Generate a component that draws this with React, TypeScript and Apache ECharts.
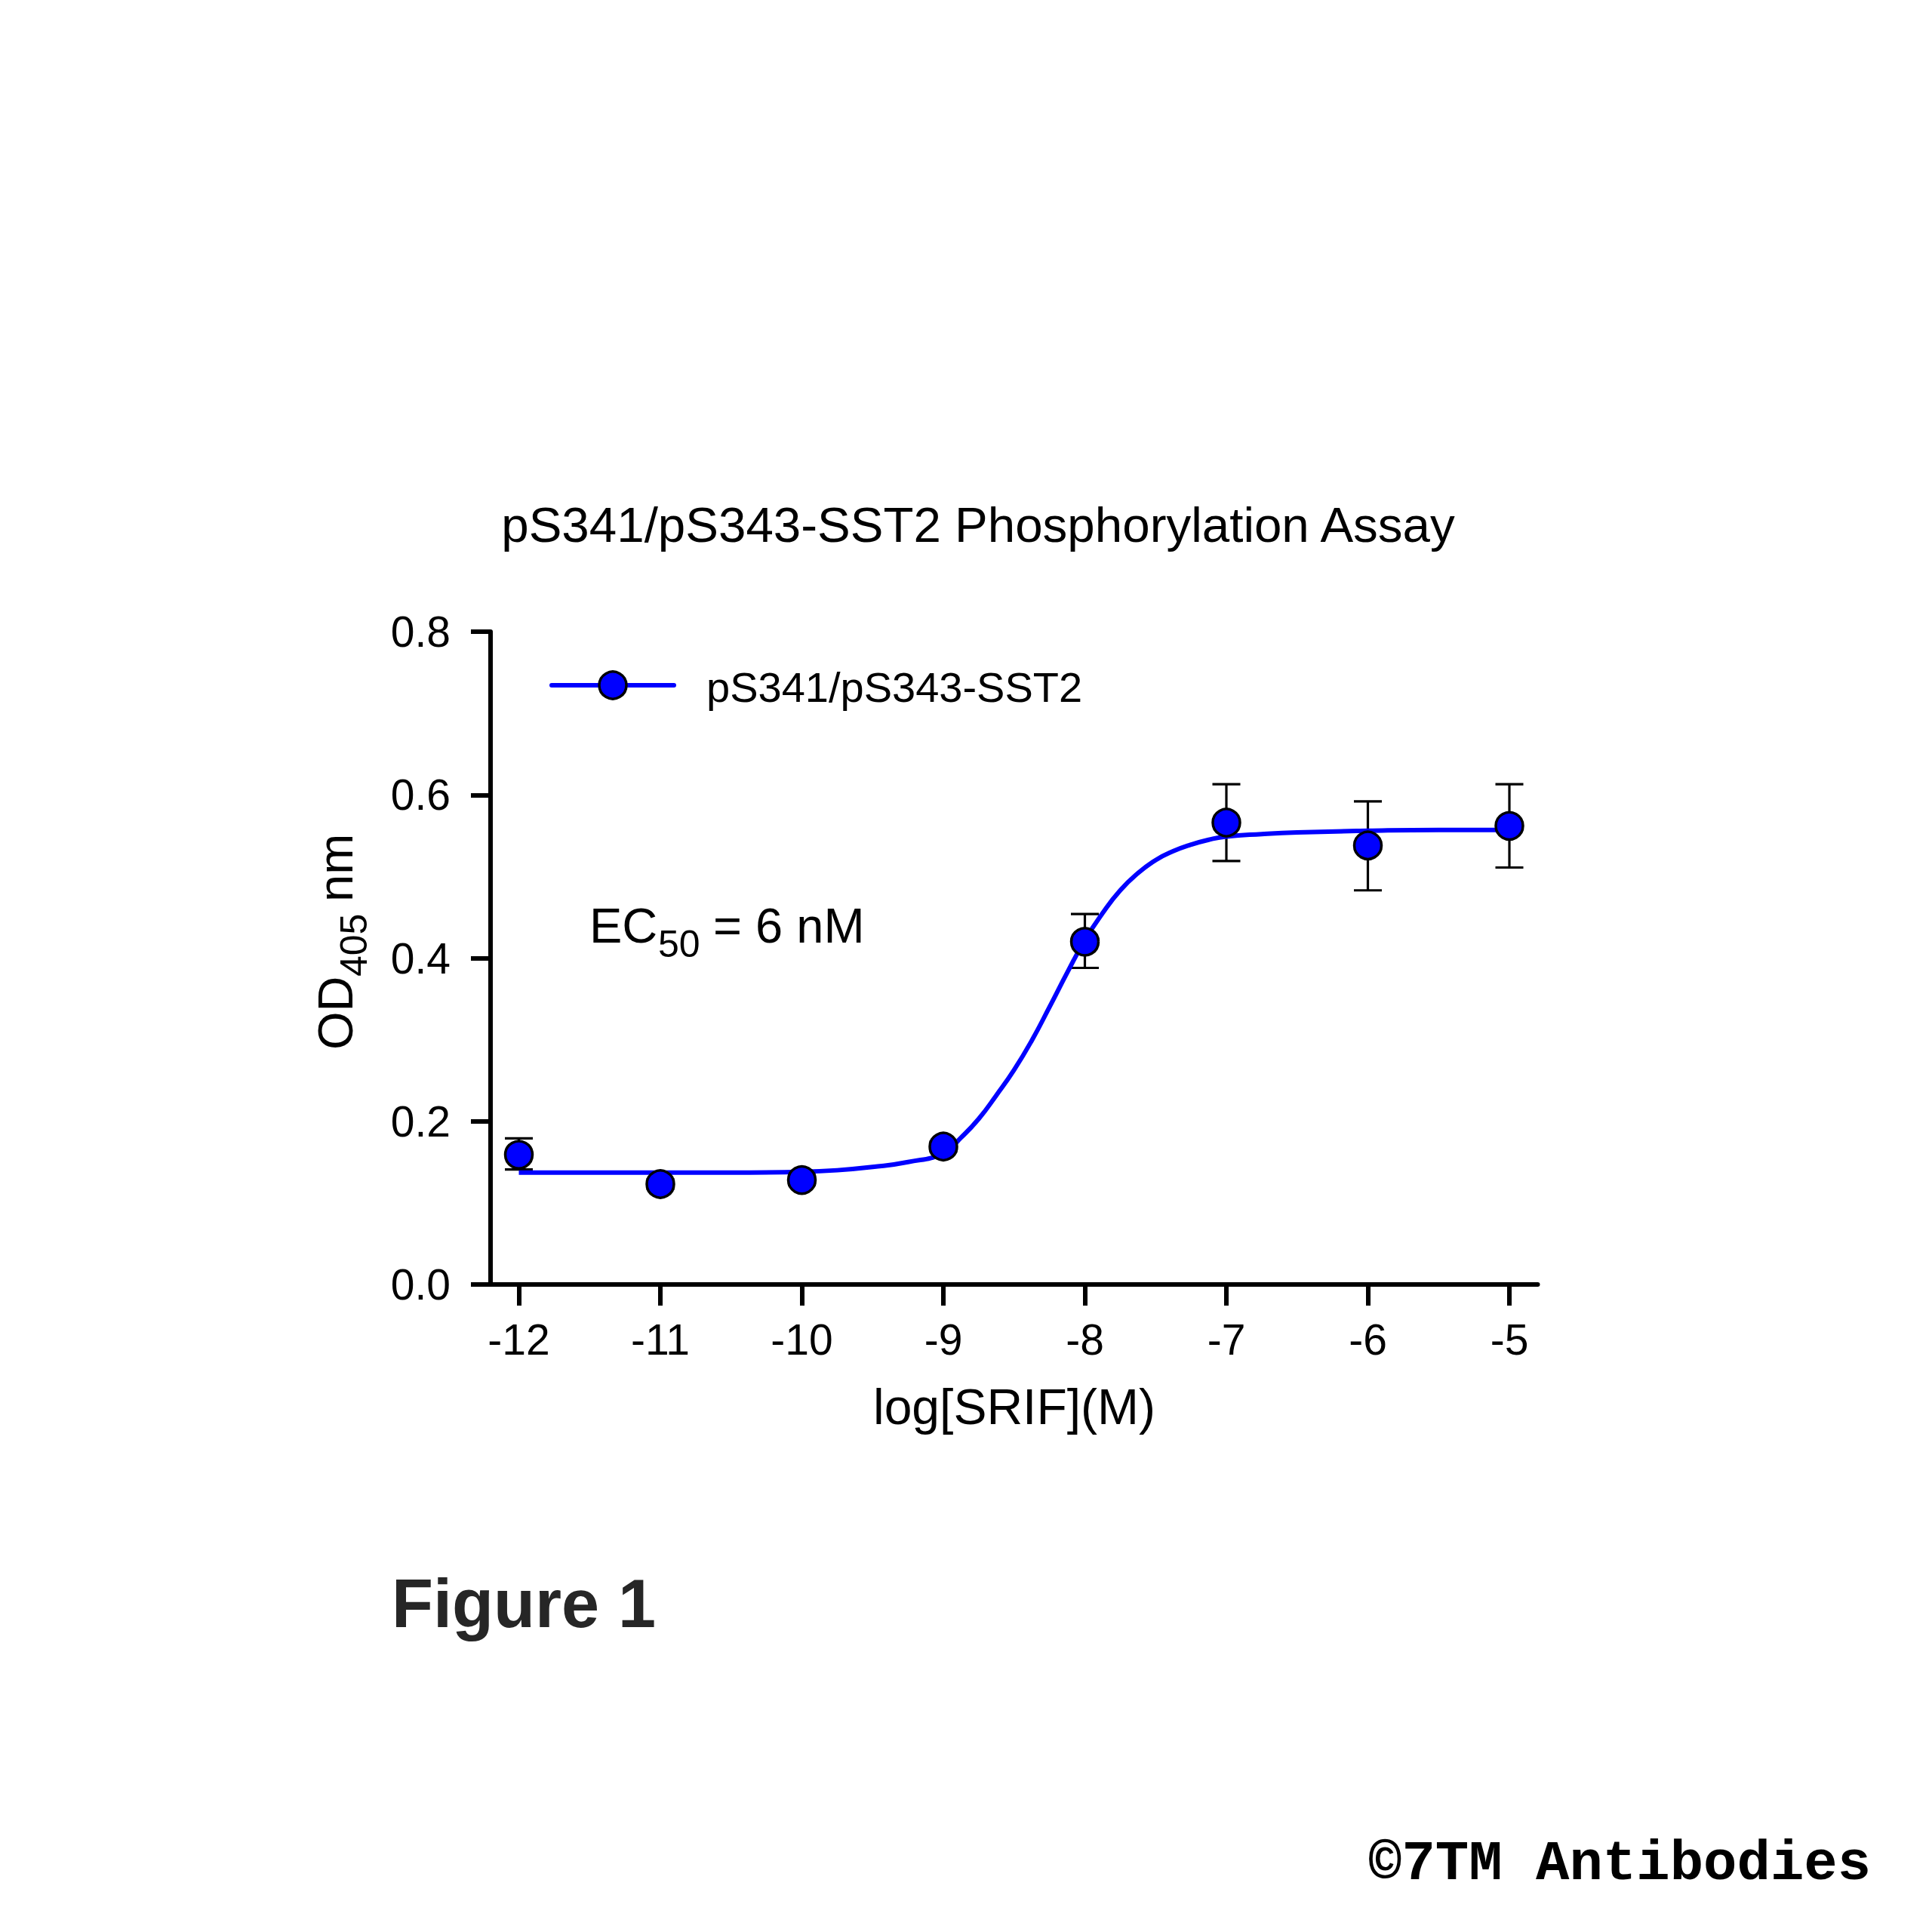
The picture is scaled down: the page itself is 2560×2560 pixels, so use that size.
import React, { useEffect, useRef } from "react";
import * as echarts from "echarts";

// ---- data ----
const doseLog = [-12, -11, -10, -9, -8, -7, -6, -5];
const meanOD = [0.159, 0.123, 0.128, 0.169, 0.42, 0.566, 0.538, 0.562];
const errLow = [0.141, 0.117, 0.122, 0.163, 0.388, 0.519, 0.483, 0.511];
const errHigh = [0.179, 0.129, 0.134, 0.175, 0.454, 0.613, 0.592, 0.613];

const fitX = [
  -12, -11.5, -11, -10.5, -10, -9.75, -9.5, -9.25, -9, -8.875, -8.75, -8.625,
  -8.5, -8.375, -8.25, -8.125, -8, -7.875, -7.75, -7.625, -7.5, -7.375, -7.25,
  -7.125, -7, -6.75, -6.5, -6, -5.5, -5,
];
const fitY = [
  0.137, 0.137, 0.137, 0.137, 0.138, 0.14, 0.144, 0.15, 0.161, 0.18, 0.203,
  0.232, 0.263, 0.299, 0.34, 0.382, 0.422, 0.455, 0.483, 0.504, 0.52, 0.531,
  0.539, 0.545, 0.549, 0.552, 0.554, 0.556, 0.557, 0.557,
];

const xTicks = [-12, -11, -10, -9, -8, -7, -6, -5];
const yTicks = [0, 0.2, 0.4, 0.6, 0.8];

const titleText = "pS341/pS343-SST2 Phosphorylation Assay";
const seriesName = "pS341/pS343-SST2";
const xLabel = "log[SRIF](M)";

const SANS = "'Liberation Sans', Arial, Helvetica, sans-serif";
const BLUE = "#0000ff";

export default function App() {
  const ref = useRef<HTMLDivElement>(null);

  useEffect(() => {
    if (!ref.current) return;
    const chart = echarts.init(ref.current, undefined, { renderer: "svg" });

    const points = doseLog.map((x, i) => [x, meanOD[i]]);
    const errs = doseLog.map((x, i) => [x, errLow[i], errHigh[i]]);
    const fit = fitX.map((x, i) => [x, fitY[i]]);

    const option: any = {
      animation: false,
      backgroundColor: "#ffffff",
      grid: { left: 650, top: 837, width: 1387.5, height: 865, containLabel: false },
      xAxis: {
        type: "value",
        min: -12.2,
        max: -4.8,
        axisLine: { show: true, onZero: false, lineStyle: { color: "#000", width: 6 } },
        axisTick: {
          show: true,
          inside: false,
          length: 28,
          customValues: xTicks,
          lineStyle: { color: "#000", width: 6 },
        },
        axisLabel: {
          show: true,
          customValues: xTicks,
          margin: 44,
          fontSize: 57,
          fontFamily: SANS,
          color: "#000",
          formatter: (v: number) => String(v),
        },
        splitLine: { show: false },
      },
      yAxis: {
        type: "value",
        min: yTicks[0],
        max: yTicks[yTicks.length - 1],
        interval: 0.2,
        axisLine: { show: true, lineStyle: { color: "#000", width: 6 } },
        axisTick: {
          show: true,
          inside: false,
          length: 26,
          lineStyle: { color: "#000", width: 6 },
        },
        axisLabel: {
          show: true,
          margin: 53,
          fontSize: 57,
          fontFamily: SANS,
          color: "#000",
          formatter: (v: number) => v.toFixed(1),
        },
        splitLine: { show: false },
      },
      series: [
        {
          type: "custom",
          name: "err",
          z: 1,
          data: errs,
          renderItem: (params: any, api: any) => {
            const x = api.value(0);
            const lo = api.coord([x, api.value(1)]);
            const hi = api.coord([x, api.value(2)]);
            const hw = 18.5;
            const style = { stroke: "#000", lineWidth: 3.2 };
            return {
              type: "group",
              children: [
                { type: "line", shape: { x1: lo[0], y1: lo[1], x2: hi[0], y2: hi[1] }, style },
                { type: "line", shape: { x1: lo[0] - hw, y1: lo[1], x2: lo[0] + hw, y2: lo[1] }, style },
                { type: "line", shape: { x1: hi[0] - hw, y1: hi[1], x2: hi[0] + hw, y2: hi[1] }, style },
              ],
            };
          },
        },
        {
          type: "line",
          name: "fit",
          z: 2,
          data: fit,
          smooth: 0.5,
          showSymbol: false,
          symbol: "none",
          lineStyle: { color: BLUE, width: 6 },
        },
        {
          type: "scatter",
          name: seriesName,
          z: 3,
          data: points,
          symbol: "circle",
          symbolSize: 36,
          itemStyle: { color: BLUE, borderColor: "#000", borderWidth: 3.5, opacity: 1 },
        },
      ],
      graphic: [
        {
          type: "text",
          x: 1296,
          y: 695,
          style: {
            text: titleText,
            font: `65.5px ${SANS}`,
            fill: "#000",
            align: "center",
            verticalAlign: "middle",
          },
        },
        // legend
        {
          type: "line",
          shape: { x1: 731, y1: 908, x2: 893, y2: 908 },
          style: { stroke: BLUE, lineWidth: 6, lineCap: "round" },
        },
        {
          type: "circle",
          shape: { cx: 812, cy: 908, r: 18 },
          style: { fill: BLUE, stroke: "#000", lineWidth: 3.5 },
        },
        {
          type: "text",
          x: 936,
          y: 910,
          style: {
            text: seriesName,
            font: `56px ${SANS}`,
            fill: "#000",
            align: "left",
            verticalAlign: "middle",
          },
        },
        // EC50 annotation
        {
          type: "text",
          x: 781,
          y: 1226,
          style: { text: "EC", font: `65px ${SANS}`, fill: "#000", align: "left", verticalAlign: "middle" },
        },
        {
          type: "text",
          x: 872,
          y: 1251,
          style: { text: "50", font: `50px ${SANS}`, fill: "#000", align: "left", verticalAlign: "middle" },
        },
        {
          type: "text",
          x: 927,
          y: 1226,
          style: { text: " = 6 nM", font: `65px ${SANS}`, fill: "#000", align: "left", verticalAlign: "middle" },
        },
        // y-axis title (rotated)
        {
          type: "group",
          x: 467,
          y: 1391,
          rotation: Math.PI / 2,
          children: [
            {
              type: "text",
              x: 0,
              y: -23,
              style: { text: "OD", font: `65px ${SANS}`, fill: "#000", align: "left", verticalAlign: "middle" },
            },
            {
              type: "text",
              x: 97,
              y: 2,
              style: { text: "405", font: `50px ${SANS}`, fill: "#000", align: "left", verticalAlign: "middle" },
            },
            {
              type: "text",
              x: 178,
              y: -23,
              style: { text: " nm", font: `65px ${SANS}`, fill: "#000", align: "left", verticalAlign: "middle" },
            },
          ],
        },
        // x-axis title
        {
          type: "text",
          x: 1344,
          y: 1864,
          style: { text: xLabel, font: `66px ${SANS}`, fill: "#000", align: "center", verticalAlign: "middle" },
        },
        // Figure label
        {
          type: "text",
          x: 519,
          y: 2125,
          style: {
            text: "Figure 1",
            font: `bold 90px ${SANS}`,
            fill: "#262626",
            align: "left",
            verticalAlign: "middle",
          },
        },
        // copyright
        {
          type: "text",
          x: 1813,
          y: 2470,
          style: {
            text: "©7TM Antibodies",
            font: `bold 74px 'Courier New', 'Liberation Mono', monospace`,
            fill: "#000",
            align: "left",
            verticalAlign: "middle",
          },
        },
      ],
    };

    chart.setOption(option);
    return () => chart.dispose();
  }, []);

  return (
    <div
      ref={ref}
      style={{ position: "absolute", left: 0, top: 0, width: 2560, height: 2560, background: "#fff" }}
    />
  );
}
